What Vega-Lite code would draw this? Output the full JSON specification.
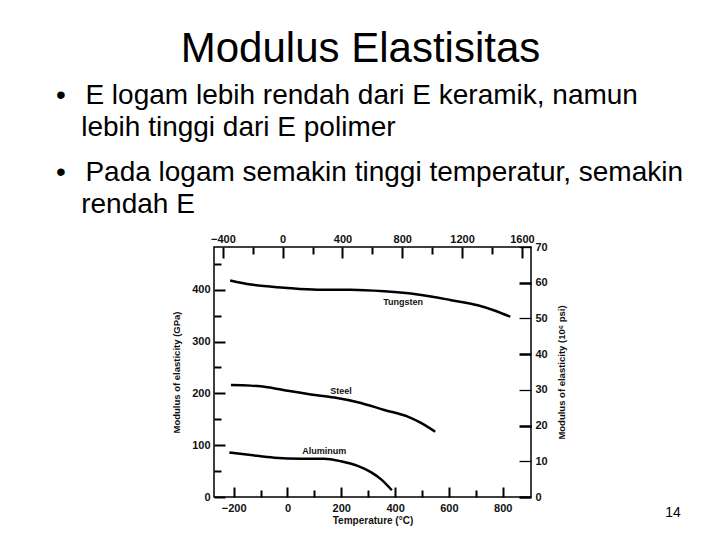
{
  "$schema": "https://vega.github.io/schema/vega-lite/v6.json",
  "background": "white",
  "padding": {"left": 55, "top": 28, "right": 0, "bottom": 0},
  "config": {
    "font": "Liberation Sans",
    "view": {"stroke": "black", "strokeWidth": 1.5},
    "concat": {"spacing": 0}
  },
  "title": {
    "text": "Modulus Elastisitas",
    "anchor": "middle",
    "frame": "group",
    "dx": -12,
    "fontSize": 42,
    "fontWeight": "normal",
    "font": "Liberation Sans",
    "color": "black",
    "offset": 10
  },
  "datasets": {
    "curves": [
      {"metal": "Tungsten", "T": -213, "E": 418},
      {"metal": "Tungsten", "T": -136, "E": 410},
      {"metal": "Tungsten", "T": -12, "E": 404},
      {"metal": "Tungsten", "T": 112, "E": 400},
      {"metal": "Tungsten", "T": 236, "E": 400},
      {"metal": "Tungsten", "T": 360, "E": 397},
      {"metal": "Tungsten", "T": 484, "E": 391},
      {"metal": "Tungsten", "T": 608, "E": 380},
      {"metal": "Tungsten", "T": 707, "E": 370},
      {"metal": "Tungsten", "T": 769, "E": 360},
      {"metal": "Tungsten", "T": 828, "E": 348},
      {"metal": "Steel", "T": -210, "E": 216},
      {"metal": "Steel", "T": -136, "E": 215},
      {"metal": "Steel", "T": -74, "E": 212},
      {"metal": "Steel", "T": 1, "E": 205},
      {"metal": "Steel", "T": 87, "E": 198},
      {"metal": "Steel", "T": 174, "E": 192},
      {"metal": "Steel", "T": 261, "E": 183},
      {"metal": "Steel", "T": 360, "E": 168},
      {"metal": "Steel", "T": 447, "E": 155},
      {"metal": "Steel", "T": 496, "E": 143},
      {"metal": "Steel", "T": 549, "E": 126},
      {"metal": "Aluminum", "T": -216, "E": 86},
      {"metal": "Aluminum", "T": -136, "E": 81},
      {"metal": "Aluminum", "T": -49, "E": 76},
      {"metal": "Aluminum", "T": 50, "E": 74},
      {"metal": "Aluminum", "T": 137, "E": 74},
      {"metal": "Aluminum", "T": 199, "E": 69},
      {"metal": "Aluminum", "T": 261, "E": 60},
      {"metal": "Aluminum", "T": 310, "E": 48},
      {"metal": "Aluminum", "T": 348, "E": 34},
      {"metal": "Aluminum", "T": 388, "E": 13}
    ],
    "labels": [
      {"metal": "Tungsten", "T": 430, "E": 376},
      {"metal": "Steel", "T": 199, "E": 205},
      {"metal": "Aluminum", "T": 137, "E": 88}
    ],
    "page": [{"metal": "14", "T": 1433, "E": -30}]
  },
  "vconcat": [
    {
      "width": 317,
      "height": 250,
      "title": {
        "text": ["•\u2002\u2009E logam lebih rendah dari E keramik, namun", "\u200b\u2002\u2009\u2009lebih tinggi dari E polimer"],
        "subtitle": ["•\u2002\u2009Pada logam semakin tinggi temperatur, semakin", "\u200b\u2002\u2009\u2009rendah E"],
        "anchor": "start",
        "frame": "group",
        "dx": -158,
        "font": "Liberation Sans",
        "subtitleFont": "Liberation Sans",
        "fontSize": 28,
        "subtitleFontSize": 28,
        "fontWeight": "normal",
        "subtitleFontWeight": "normal",
        "lineHeight": 32,
        "subtitleLineHeight": 32,
        "subtitlePadding": 17,
        "color": "black",
        "subtitleColor": "black",
        "offset": 14
      },
      "layer": [
        {
          "encoding": {
            "x": {
              "field": "T",
              "type": "quantitative",
              "scale": {"domain": [-273, 905], "nice": false, "zero": false},
              "axis": {
                "orient": "bottom",
                "values": [-200, -100, 0, 100, 200, 300, 400, 500, 600, 700, 800],
                "labelExpr": "datum.value % 200 === 0 ? datum.label : ''",
                "tickSize": {"condition": {"test": "datum.value % 200 === 0", "value": -10}, "value": -7},
                "tickWidth": 2,
                "tickColor": "black",
                "labelPadding": 15,
                "labelFontWeight": "bold",
                "labelFontSize": 11,
                "labelColor": "#111",
                "labelFlush": false,
                "domain": false,
                "grid": false,
                "title": "Temperature (°C)",
                "titleFontSize": 10,
                "titleFontWeight": "bold",
                "titleColor": "#111",
                "titlePadding": 2
              }
            },
            "y": {
              "field": "E",
              "type": "quantitative",
              "scale": {"domain": [0, 482.6], "nice": false, "zero": true},
              "axis": {
                "orient": "left",
                "values": [0, 50, 100, 150, 200, 250, 300, 350, 400, 450],
                "labelExpr": "datum.value % 100 === 0 ? datum.label : ''",
                "tickSize": {"condition": {"test": "datum.value % 100 === 0", "value": -11}, "value": -7},
                "tickWidth": 2,
                "tickColor": "black",
                "labelPadding": 15,
                "labelFontWeight": "bold",
                "labelFontSize": 11,
                "labelColor": "#111",
                "labelFlush": false,
                "domain": false,
                "grid": false,
                "title": "Modulus of elasticity (GPa)",
                "titleFontSize": 9.5,
                "titleFontWeight": "bold",
                "titleColor": "#111",
                "titlePadding": 10
              }
            }
          },
          "layer": [
            {
              "data": {"name": "curves"},
              "mark": {"type": "line", "interpolate": "monotone", "color": "black", "strokeWidth": 2.5},
              "encoding": {"detail": {"field": "metal"}}
            },
            {
              "data": {"name": "labels"},
              "mark": {"type": "text", "font": "Liberation Sans", "fontWeight": "bold", "fontSize": 9, "color": "#111"},
              "encoding": {"text": {"field": "metal"}}
            },
            {
              "data": {"name": "page"},
              "mark": {"type": "text", "font": "Liberation Sans", "fontWeight": "normal", "fontSize": 14, "color": "black"},
              "encoding": {"text": {"field": "metal"}}
            }
          ]
        },
        {
          "data": {"values": [{}]},
          "mark": {"type": "point", "opacity": 0},
          "encoding": {
            "x": {
              "datum": 0,
              "type": "quantitative",
              "scale": {"domain": [-459.4, 1661], "nice": false, "zero": false},
              "axis": {
                "orient": "top",
                "values": [-400, -200, 0, 200, 400, 600, 800, 1000, 1200, 1400, 1600],
                "format": "d",
                "labelExpr": "datum.value % 400 === 0 ? datum.label : ''",
                "tickSize": {"condition": {"test": "datum.value % 400 === 0", "value": -11}, "value": -7},
                "tickWidth": 2,
                "tickColor": "black",
                "labelPadding": 14,
                "labelFontWeight": "bold",
                "labelFontSize": 11,
                "labelColor": "#111",
                "labelFlush": false,
                "domain": false,
                "grid": false,
                "title": null
              }
            },
            "y": {
              "datum": 0,
              "type": "quantitative",
              "scale": {"domain": [0, 70], "nice": false, "zero": true},
              "axis": {
                "orient": "right",
                "values": [0, 10, 20, 30, 40, 50, 60, 70],
                "tickSize": -12,
                "tickWidth": {"condition": {"test": "datum.value % 20 === 0", "value": 2.5}, "value": 1.3},
                "tickColor": "black",
                "labelPadding": 16,
                "labelFontWeight": "bold",
                "labelFontSize": 11,
                "labelColor": "#111",
                "labelFlush": false,
                "domain": false,
                "grid": false,
                "title": "Modulus of elasticity (10⁶ psi)",
                "titleAngle": 270,
                "titleBaseline": "top",
                "titleFontSize": 9.5,
                "titleFontWeight": "bold",
                "titleColor": "#111",
                "titlePadding": 9
              }
            }
          }
        }
      ],
      "resolve": {"scale": {"x": "independent", "y": "independent"}}
    }
  ]
}
